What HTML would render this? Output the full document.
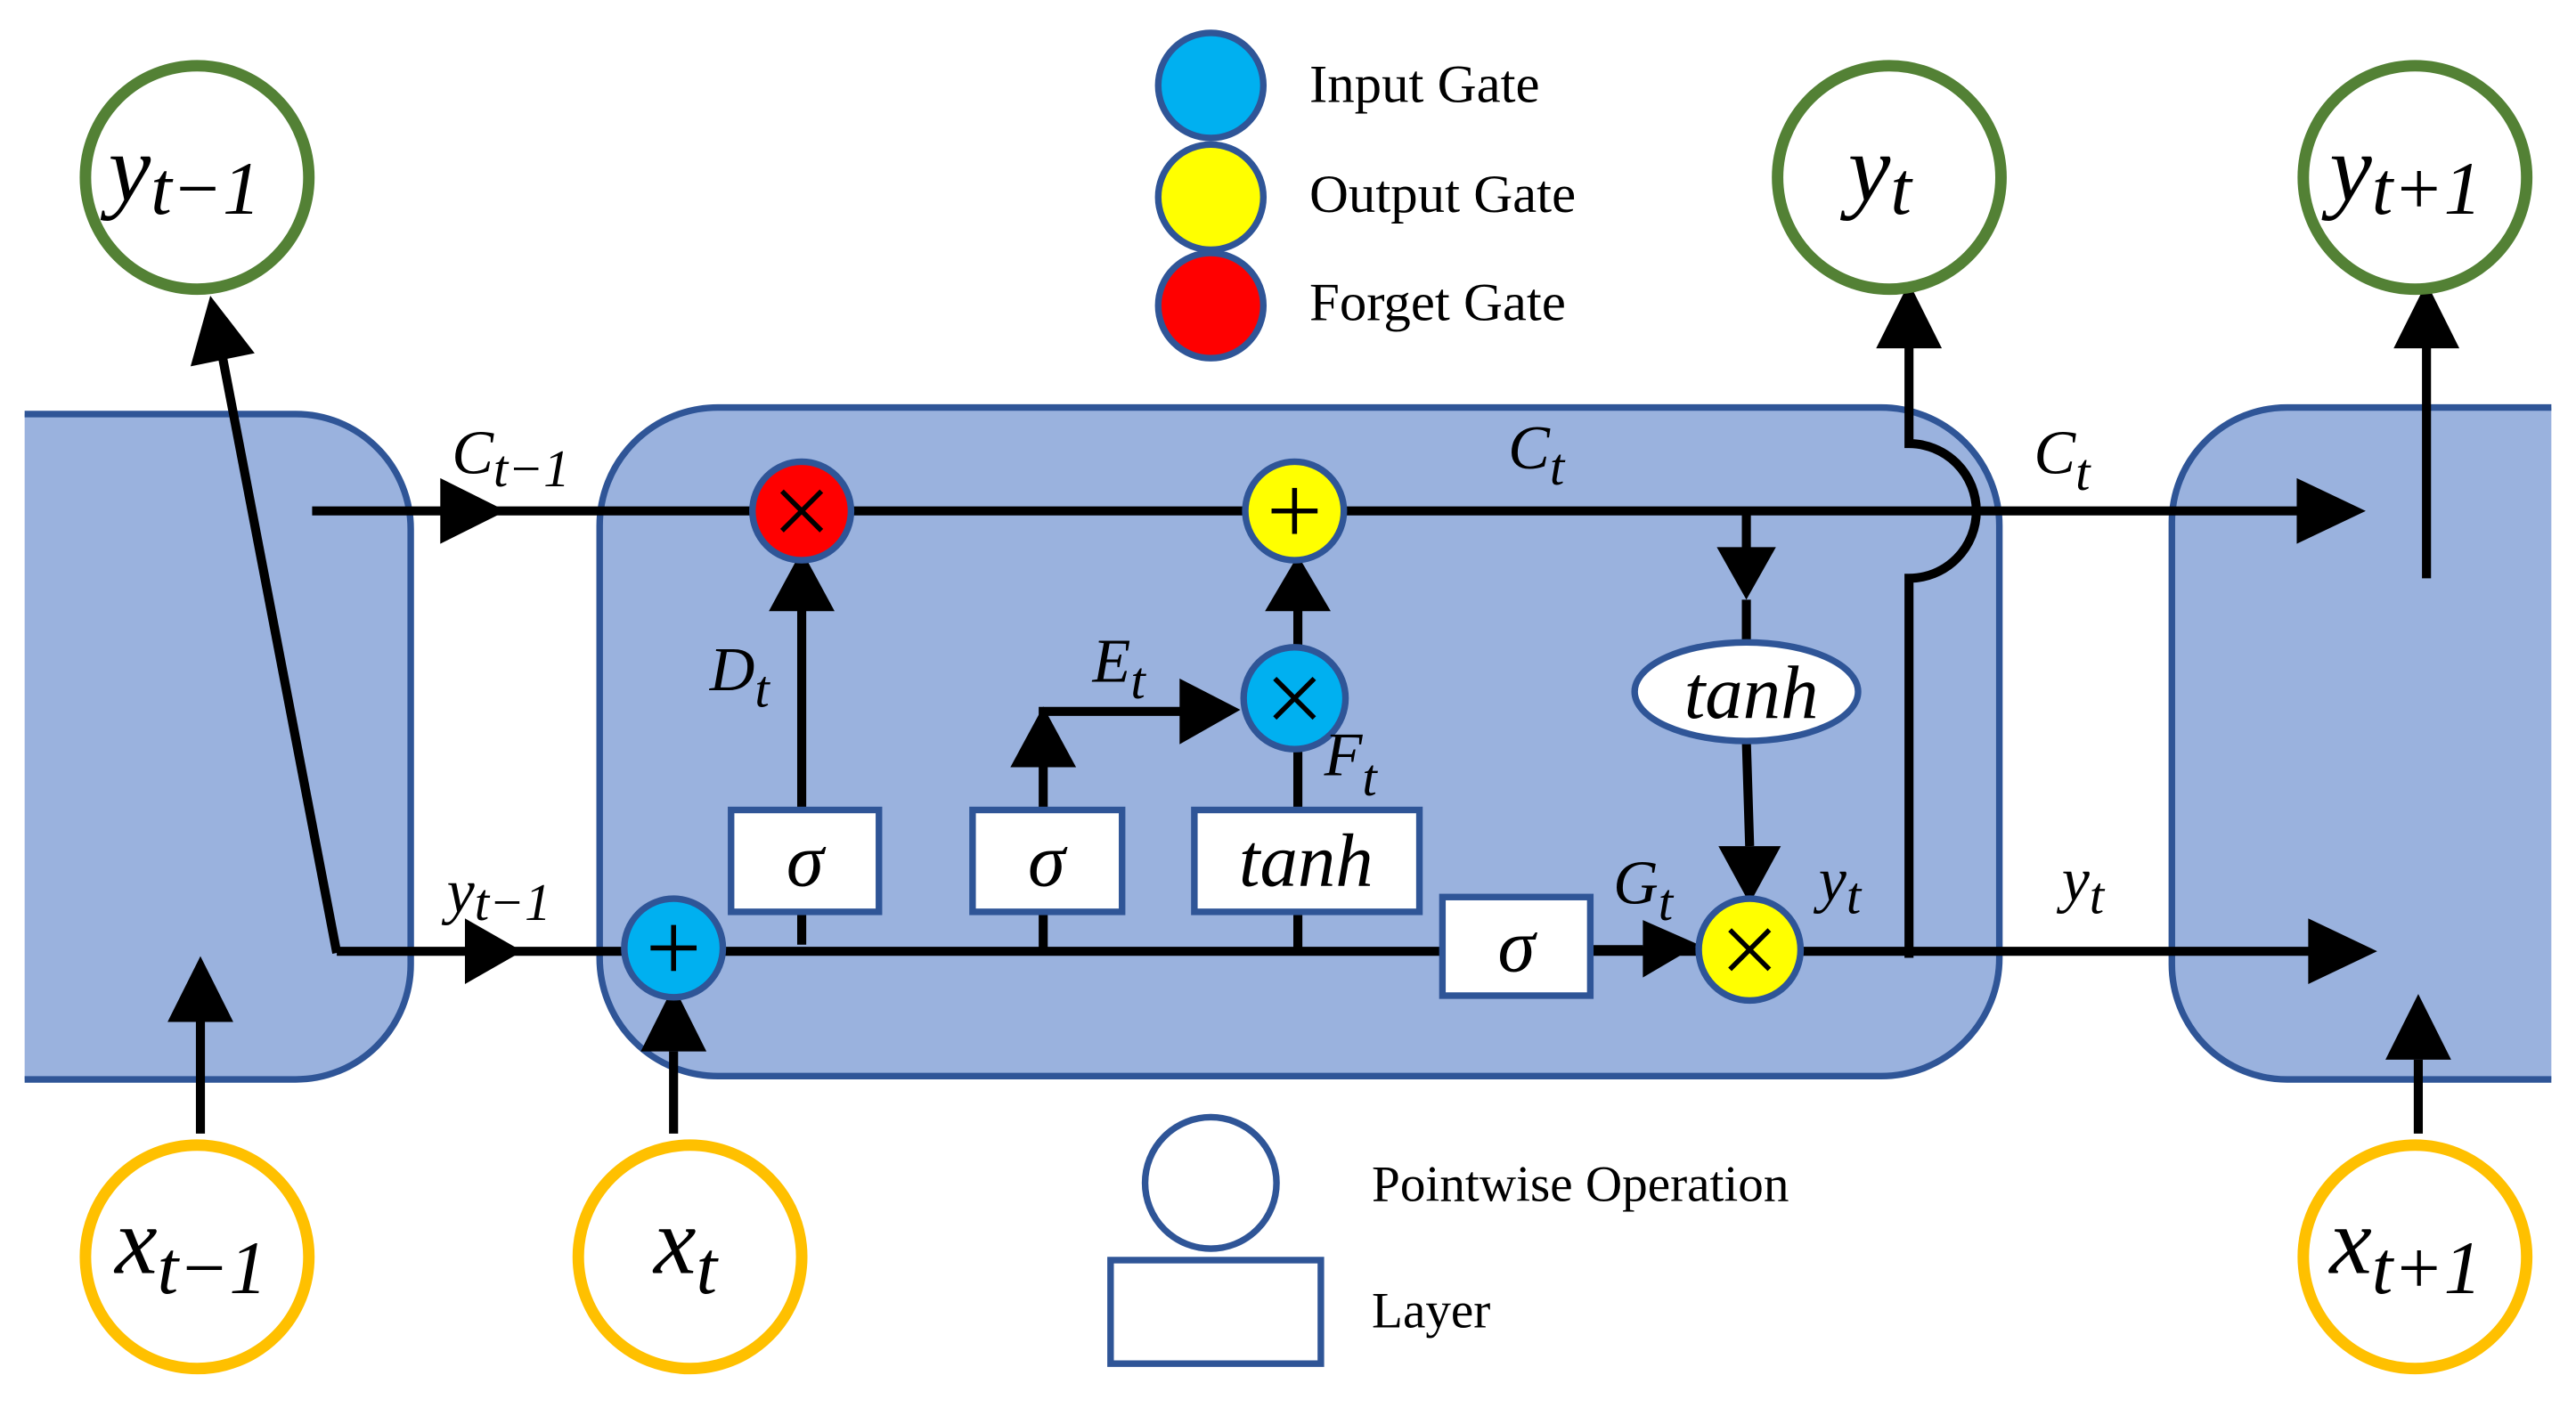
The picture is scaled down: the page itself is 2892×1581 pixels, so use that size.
<!DOCTYPE html>
<html><head><style>html,body{margin:0;padding:0;background:#fff}svg{display:block}</style></head>
<body>
<svg width="2892" height="1581" viewBox="0 0 1568 857" preserveAspectRatio="none" xmlns="http://www.w3.org/2000/svg" font-family="Liberation Serif, serif">
<path d="M15 252 H180 A70 70 0 0 1 250 322 V587 A70 70 0 0 1 180 657 H15 V252Z" fill="#9ab2de"/>
<path d="M15 252 H180 A70 70 0 0 1 250 322 V587 A70 70 0 0 1 180 657 H15" fill="none" stroke="#2f5597" stroke-width="4"/>
<rect x="365" y="248" width="852" height="407" rx="72" fill="#9ab2de" stroke="#2f5597" stroke-width="4"/>
<path d="M1553 248 H1392 A70 70 0 0 0 1322 318 V587 A70 70 0 0 0 1392 657 H1553Z" fill="#9ab2de"/>
<path d="M1553 248 H1392 A70 70 0 0 0 1322 318 V587 A70 70 0 0 0 1392 657 H1553" fill="none" stroke="#2f5597" stroke-width="4"/>

<g stroke="#000" stroke-width="5.5" fill="none">
<line x1="190" y1="311" x2="1410" y2="311"/>
<line x1="205" y1="579" x2="1415" y2="579"/>
<polyline points="205,580 135,215"/>
<line x1="122" y1="690" x2="122" y2="620"/>
<line x1="410" y1="690" x2="410" y2="640"/>
<line x1="1472" y1="690" x2="1472" y2="645"/>
<line x1="488" y1="492" x2="488" y2="370"/>
<line x1="488" y1="555" x2="488" y2="575"/>
<line x1="635" y1="580" x2="635" y2="555"/>
<line x1="635" y1="492" x2="635" y2="465"/>
<polyline points="635,465 635,433 720,433"/>
<line x1="790" y1="492" x2="790" y2="456"/>
<line x1="790" y1="555" x2="790" y2="580"/>
<line x1="790" y1="394" x2="790" y2="370"/>
<line x1="1063" y1="311" x2="1063" y2="335"/>
<line x1="1063" y1="365" x2="1063" y2="391"/>
<line x1="1063" y1="451" x2="1065" y2="515"/>
<line x1="968" y1="578" x2="1000" y2="578"/>
<path d="M1162 583 V352 A41 41 0 0 0 1162 270 V210"/>
<line x1="1477" y1="352" x2="1477" y2="210"/>
</g>
<g fill="#000">
<polygon points="268,291 308,311 268,331"/>
<polygon points="283,559 318,579 283,599"/>
<polygon points="1398,291 1440,311 1398,331"/>
<polygon points="1405,559 1447,579 1405,599"/>
<polygon points="128,180 155,215 116,223"/>
<polygon points="102,622 122,582 142,622"/>
<polygon points="390,640 410,600 430,640"/>
<polygon points="1452,645 1472,605 1492,645"/>
<polygon points="468,372 488,335 508,372"/>
<polygon points="615,467 635,430 655,467"/>
<polygon points="718,413 755,432 718,453"/>
<polygon points="770,372 790,338 810,372"/>
<polygon points="1045,333 1063,365 1081,333"/>
<polygon points="1046,515 1065,550 1084,515"/>
<polygon points="1000,560 1034,575 1000,595"/>
<polygon points="1142,212 1162,172 1182,212"/>
<polygon points="1457,212 1477,172 1497,212"/>
</g>

<g fill="#fff" stroke="#2f5597" stroke-width="4">
<rect x="445" y="493" width="90" height="62"/>
<rect x="592" y="493" width="91" height="62"/>
<rect x="727" y="493" width="137" height="62"/>
<rect x="878" y="546" width="90" height="60"/>
<ellipse cx="1063" cy="421" rx="68" ry="30"/>
<circle cx="737" cy="720" r="40"/>
<rect x="676" y="767" width="128" height="63"/>
</g>
<g font-style="italic" font-size="46" text-anchor="middle" fill="#000">
<text x="490" y="539">σ</text>
<text x="637" y="539">σ</text>
<text x="795" y="539">tanh</text>
<text x="923" y="591">σ</text>
<text x="1066" y="437">tanh</text>
</g>

<g stroke="#2f5597" stroke-width="4">
<circle cx="488" cy="311" r="30" fill="#ff0000"/>
<circle cx="788" cy="311" r="30" fill="#ffff00"/>
<circle cx="788" cy="425" r="31" fill="#00b0f0"/>
<circle cx="410" cy="577" r="30" fill="#00b0f0"/>
<circle cx="1065" cy="578" r="31" fill="#ffff00"/>
<circle cx="737" cy="52" r="32" fill="#00b0f0"/>
<circle cx="737" cy="120" r="32" fill="#ffff00"/>
<circle cx="737" cy="186" r="32" fill="#ff0000"/>
</g>
<g stroke="#000" stroke-width="3">
<path d="M476 299 L500 323 M500 299 L476 323"/>
<path d="M788 297 V325 M774 311 H802"/>
<path d="M776 413 L800 437 M800 413 L776 437"/>
<path d="M410 563 V591 M396 577 H424"/>
<path d="M1053 566 L1077 590 M1077 566 L1053 590"/>
</g>

<g fill="#fff" stroke-width="7">
<circle cx="120" cy="108" r="68" stroke="#538135"/>
<circle cx="1150" cy="108" r="68" stroke="#538135"/>
<circle cx="1470" cy="108" r="68" stroke="#538135"/>
<circle cx="120" cy="765" r="68" stroke="#ffc000"/>
<circle cx="420" cy="765" r="68" stroke="#ffc000"/>
<circle cx="1470" cy="765" r="68" stroke="#ffc000"/>
</g>
<g font-size="58" fill="#000" font-style="italic">
<text x="66" y="122">y<tspan font-size="46" dy="8">t−1</tspan></text>
<text x="1125" y="122">y<tspan font-size="46" dy="8">t</tspan></text>
<text x="1418" y="122">y<tspan font-size="46" dy="8">t+1</tspan></text>
<text x="70" y="775">x<tspan font-size="46" dy="12">t−1</tspan></text>
<text x="398" y="775">x<tspan font-size="46" dy="12">t</tspan></text>
<text x="1418" y="775">x<tspan font-size="46" dy="12">t+1</tspan></text>
</g>
<g font-size="38" fill="#000" font-style="italic">
<text x="275" y="288">C<tspan font-size="32" dy="8">t−1</tspan></text>
<text x="918" y="285">C<tspan font-size="32" dy="10">t</tspan></text>
<text x="1238" y="288">C<tspan font-size="32" dy="10">t</tspan></text>
<text x="272" y="555">y<tspan font-size="32" dy="5">t−1</tspan></text>
<text x="432" y="420">D<tspan font-size="32" dy="10">t</tspan></text>
<text x="665" y="415">E<tspan font-size="32" dy="10">t</tspan></text>
<text x="806" y="472">F<tspan font-size="32" dy="12">t</tspan></text>
<text x="982" y="550">G<tspan font-size="32" dy="10">t</tspan></text>
<text x="1107" y="548">y<tspan font-size="32" dy="8">t</tspan></text>
<text x="1255" y="548">y<tspan font-size="32" dy="8">t</tspan></text>
</g>
<g font-size="33" fill="#000">
<text x="797" y="62">Input Gate</text>
<text x="797" y="129">Output Gate</text>
<text x="797" y="195">Forget Gate</text>
<text x="835" y="731" font-size="31">Pointwise Operation</text>
<text x="835" y="808" font-size="31">Layer</text>
</g>
</svg>
</body></html>
